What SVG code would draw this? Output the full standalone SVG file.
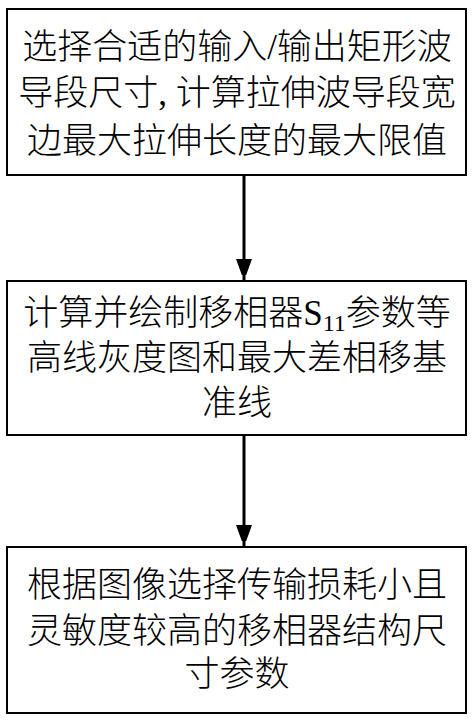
<svg xmlns="http://www.w3.org/2000/svg" width="474" height="722" viewBox="0 0 474 722">
<style>
.box{fill:#fff;stroke:#000;stroke-width:2}
.t{font-family:"Liberation Serif","Noto Sans CJK SC",serif;font-size:35px;font-weight:300;fill:#000;text-anchor:middle}
.c{stroke:#000;stroke-width:3;fill:none}
</style>
<defs>
<marker id="ah" markerWidth="16" markerHeight="22" refX="22" refY="8" orient="auto" markerUnits="userSpaceOnUse">
<path d="M0,0 L22,8 L0,16 Z" fill="#000"/>
</marker>
</defs>
<rect width="474" height="722" fill="#fff"/>
<g id="n1">
<rect class="box" x="7" y="9" width="459" height="166"/>
<text class="t" x="237" y="59">选择合适的输入/输出矩形波</text>
<text class="t" x="237" y="105">导段尺寸, 计算拉伸波导段宽</text>
<text class="t" x="237" y="153">边最大拉伸长度的最大限值</text>
</g>
<g id="n2">
<rect class="box" x="7" y="281" width="459" height="154"/>
<text class="t" x="237" y="325">计算并绘制移相器S<tspan font-size="24" dy="6">11</tspan><tspan dy="-6">参数等</tspan></text>
<text class="t" x="237" y="370">高线灰度图和最大差相移基</text>
<text class="t" x="237" y="415">准线</text>
</g>
<g id="n3">
<rect class="box" x="7" y="547" width="459" height="166"/>
<text class="t" x="237" y="597">根据图像选择传输损耗小且</text>
<text class="t" x="237" y="643">灵敏度较高的移相器结构尺</text>
<text class="t" x="237" y="686">寸参数</text>
</g>
<g id="connectors">
<line class="c" x1="244" y1="175" x2="244" y2="281" marker-end="url(#ah)"/>
<line class="c" x1="244" y1="435" x2="244" y2="547" marker-end="url(#ah)"/>
</g>
</svg>
